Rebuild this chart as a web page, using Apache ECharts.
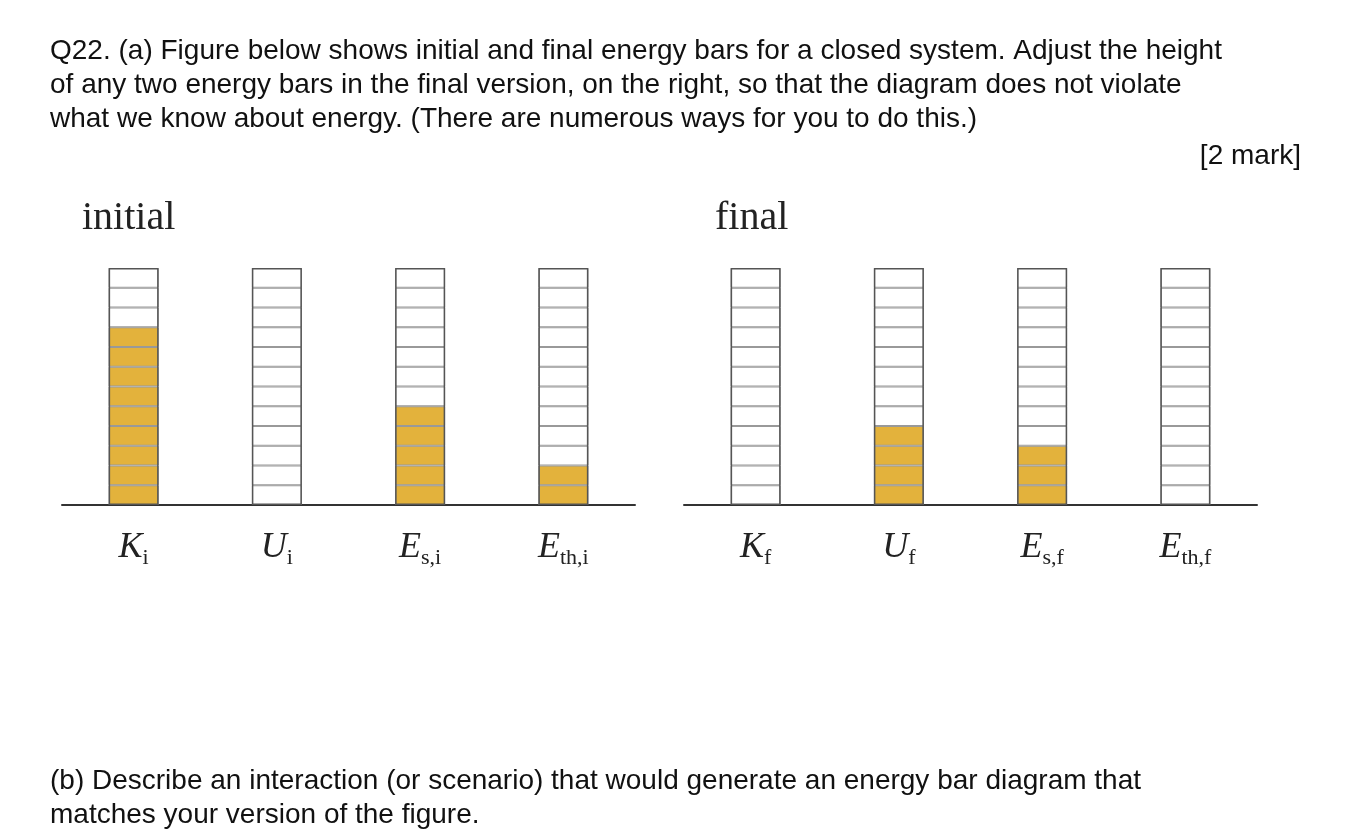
<!DOCTYPE html>
<html><head><meta charset="utf-8">
<script src="https://cdn.jsdelivr.net/npm/echarts@6/dist/echarts.min.js"></script>
<style>html,body{margin:0;padding:0;background:#fff}#c{width:1363px;height:833px}</style>
</head><body><div id="c"></div>
<script>
const initialMain = ['K','U','E','E'];
const initialSub = ['i','i','s,i','th,i'];
const finalMain = ['K','U','E','E'];
const finalSub = ['f','f','s,f','th,f'];
const initialValues = [9,0,5,2];
const finalValues = [0,4,3,0];
const cellCount = 12;

const chart = echarts.init(document.getElementById('c'));
const gold = '#e3b23c';
function axisLabels(main, sub){ return main.map((m,i)=>m+'|'+sub[i]); }
function xAxis(idx, main, sub){
  return {type:'category', gridIndex:idx, data:axisLabels(main,sub),
    axisLine:{lineStyle:{color:'#333',width:2}}, axisTick:{show:false},
    axisLabel:{margin:22, formatter:v=>{const p=v.split('|');return '{m|'+p[0]+'}{s|'+p[1]+'}';},
      rich:{m:{fontFamily:'Liberation Serif',fontStyle:'italic',fontSize:36,color:'#222'},
            s:{fontFamily:'Liberation Serif',fontSize:22,color:'#222',verticalAlign:'bottom',padding:[20,0,0,0]}}}};
}
function yAxis(idx){ return {type:'value',gridIndex:idx,min:0,max:cellCount,show:false,splitLine:{show:false}}; }
const series=[];
[[initialValues,0],[finalValues,1]].forEach(([vals,g])=>{
  for(let k=0;k<cellCount;k++){
    series.push({type:'bar',xAxisIndex:g,yAxisIndex:g,stack:'s'+g,barWidth:50,silent:true,
      data:vals.map(v=>({value:1,itemStyle:{color:k<v?gold:'#fff',borderColor:'#999',borderWidth:1}}))});
  }
  series.push({type:'bar',xAxisIndex:g,yAxisIndex:g,barWidth:50,barGap:'-100%',z:5,silent:true,
    data:vals.map(()=>cellCount),itemStyle:{color:'transparent',borderColor:'#555',borderWidth:1.5}});
});
const tx={fontFamily:'Arial, "Liberation Sans", sans-serif',fontSize:28,fill:'#111'};
chart.setOption({
  animation:false,
  grid:[{left:62,width:573,top:268,height:237},{left:684,width:573,top:268,height:237}],
  xAxis:[xAxis(0,initialMain,initialSub),xAxis(1,finalMain,finalSub)],
  yAxis:[yAxis(0),yAxis(1)],
  series,
  graphic:[
    {type:'text',left:50,top:34,style:Object.assign({},tx,{text:'Q22. (a) Figure below shows initial and final energy bars for a closed system. Adjust the height\nof any two energy bars in the final version, on the right, so that the diagram does not violate\nwhat we know about energy. (There are numerous ways for you to do this.)',lineHeight:34})},
    {type:'text',right:62,top:142,style:Object.assign({},tx,{text:'[2 mark]'})},
    {type:'text',left:82,top:198,style:{text:'initial',fontFamily:'Liberation Serif',fontSize:40,fill:'#222'}},
    {type:'text',left:715,top:198,style:{text:'final',fontFamily:'Liberation Serif',fontSize:40,fill:'#222'}},
    {type:'text',left:50,top:764,style:Object.assign({},tx,{text:'(b) Describe an interaction (or scenario) that would generate an energy bar diagram that\nmatches your version of the figure.',lineHeight:34})}
  ]
});
</script></body></html>
